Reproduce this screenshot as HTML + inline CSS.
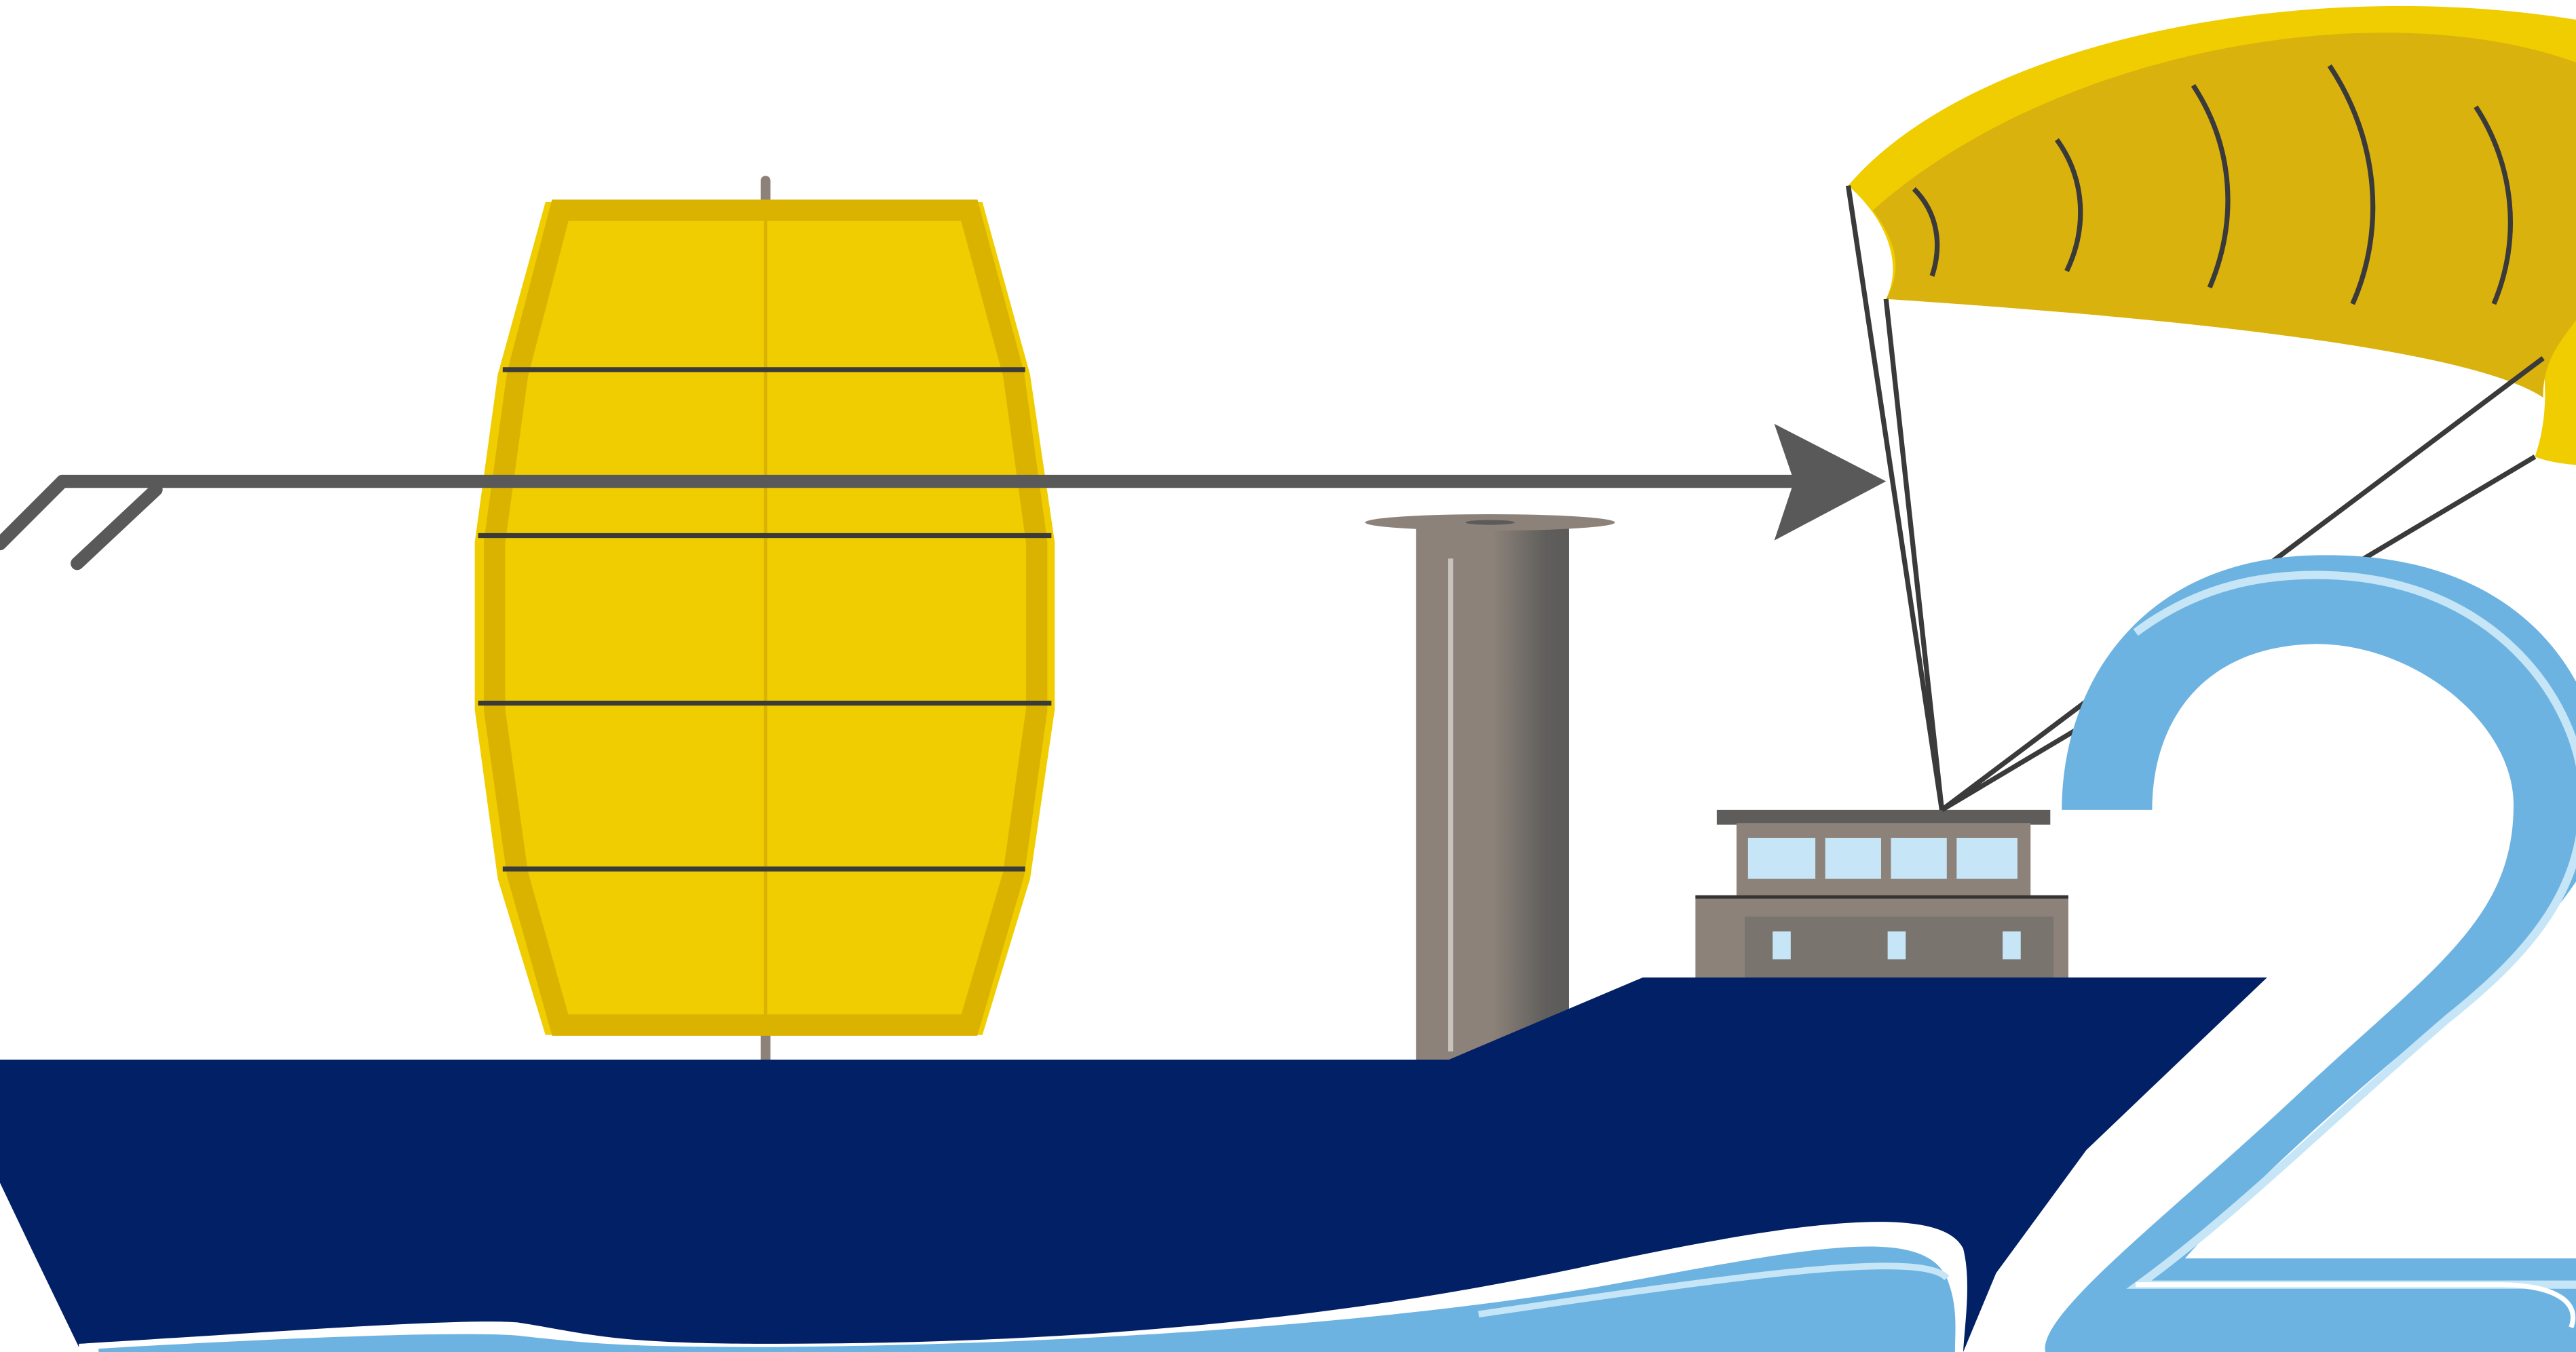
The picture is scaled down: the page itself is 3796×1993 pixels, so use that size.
<!DOCTYPE html>
<html><head><meta charset="utf-8"><style>
html,body{margin:0;padding:0;background:#fff;width:3796px;height:1993px;overflow:hidden}
svg{display:block}
</style></head><body>
<svg width="3796" height="1993" viewBox="0 0 1568 823" preserveAspectRatio="none" xmlns="http://www.w3.org/2000/svg">
<defs>
<linearGradient id="rot" x1="0" x2="1" y1="0" y2="0">
<stop offset="0" stop-color="#8c8279"/><stop offset="0.5" stop-color="#8c8279"/><stop offset="0.85" stop-color="#605e5c"/><stop offset="1" stop-color="#5d5b5a"/>
</linearGradient>
</defs>
<rect width="1568" height="823" fill="#fff"/>
<!-- mast -->
<line x1="466" y1="110" x2="466" y2="648" stroke="#8c8279" stroke-width="6" stroke-linecap="round"/>
<!-- sail -->
<polygon points="332,123 598,123 627,228 642,330 642,432 627,535 598,630 332,630 303,535 289,432 289,330 303,228" fill="#f0cd00"/>
<polygon points="341,128 590,128 617,228 631,330 631,432 617,532 590,624 341,624 315,532 301,432 301,330 315,228" fill="none" stroke="#dab300" stroke-width="13"/>
<line x1="466" y1="133" x2="466" y2="618" stroke="#dab300" stroke-width="2"/>
<g stroke="#3a3a3a" stroke-width="3">
<line x1="306" y1="225" x2="624" y2="225"/><line x1="291" y1="326" x2="640" y2="326"/>
<line x1="291" y1="428" x2="640" y2="428"/><line x1="306" y1="529" x2="624" y2="529"/>
</g>
<!-- arrow -->
<g stroke="#595959" stroke-width="8" stroke-linecap="round" fill="none">
<line x1="38" y1="293" x2="1092" y2="293"/>
<line x1="38" y1="293" x2="0" y2="331"/>
<line x1="95" y1="298" x2="47" y2="343"/>
<line x1="40" y1="298" x2="0" y2="338" stroke-width="0"/>
</g>
<polygon points="1080,258 1148,293 1080,329 1092,293" fill="#595959"/>
<!-- rotor -->
<rect x="862" y="320" width="93" height="330" fill="url(#rot)"/>
<line x1="883" y1="340" x2="883" y2="640" stroke="#c9c3be" stroke-width="3"/>
<ellipse cx="907" cy="318" rx="76" ry="5" fill="#8c8279"/>
<ellipse cx="907" cy="318" rx="15" ry="1.5" fill="#5d5b5a"/>
<!-- superstructure -->
<rect x="1045" y="493" width="203" height="9" fill="#5f5d5c"/>
<rect x="1057" y="501" width="179" height="45" fill="#8c8279"/>
<rect x="1064" y="510" width="164" height="25" fill="#c6e6f7"/>
<g fill="#8c8279"><rect x="1105" y="510" width="6" height="25"/><rect x="1145" y="510" width="6" height="25"/><rect x="1185" y="510" width="6" height="25"/></g>
<rect x="1032" y="545" width="227" height="52" fill="#8c8279"/>
<rect x="1062" y="558" width="188" height="39" fill="#7a746e"/>
<line x1="1032" y1="546" x2="1259" y2="546" stroke="#333" stroke-width="2"/>
<g fill="#c6e6f7"><rect x="1079" y="567" width="11" height="17"/><rect x="1149" y="567" width="11" height="17"/><rect x="1219" y="567" width="11" height="17"/></g>
<!-- hull -->
<polygon points="0,645 882,645 1000,595 1380,595 1270,700 1215,775 1195,823 48,820 20,762 0,720" fill="#022066"/>
<!-- waves -->
<path d="M48,818 C150,812 280,802 315,805 C360,812 370,818 470,818 C700,818 850,795 960,772 C1080,746 1180,730 1195,760 C1200,780 1196,805 1195,823 L48,823 Z" fill="#fff"/>
<path d="M60,821 C160,815 280,810 315,813 C360,818 380,820 470,820 C700,818 880,800 980,782 C1100,760 1170,745 1185,778 C1192,795 1190,810 1190,823 L60,823 Z" fill="#6db3e2"/>
<path d="M900,800 C1050,778 1170,760 1185,778" fill="none" stroke="#c6e6f7" stroke-width="4"/>
<!-- kite -->
<path d="M1125,113 C1200,25 1400,-15 1568,12 L1568,283 C1556,282 1548,280 1543,278 C1550,258 1550,238 1548,220 L1500,205 C1350,190 1250,186 1148,182 C1158,162 1150,135 1125,113 Z" fill="#f0cd00"/>
<path d="M1140,128 C1250,30 1450,-5 1568,38 L1568,195 C1555,212 1548,222 1548,242 C1500,210 1300,192 1148,182 C1158,165 1155,148 1140,128 Z" fill="#dab20d"/>
<g fill="none" stroke="#3a3a3a" stroke-width="3">
<path d="M1165,115 C1180,130 1182,150 1176,168"/>
<path d="M1252,85 C1270,110 1270,140 1258,165"/>
<path d="M1335,52 C1360,90 1362,135 1345,175"/>
<path d="M1418,40 C1448,85 1452,140 1432,185"/>
<path d="M1507,65 C1530,100 1535,145 1518,185"/>
</g>
<g stroke="#3a3a3a" stroke-width="3">
<line x1="1125" y1="113" x2="1182" y2="493"/>
<line x1="1148" y1="182" x2="1182" y2="493"/>
<line x1="1548" y1="218" x2="1182" y2="493"/>
<line x1="1543" y1="278" x2="1182" y2="493"/>
</g>
<!-- big 2 -->
<path d="M1255,493 L1310,493 C1310,440 1340,393 1410,392 C1470,392 1530,440 1530,490 C1530,560 1480,590 1400,665 C1320,740 1240,800 1245,823 L1568,823 L1568,766 L1330,766 C1380,710 1450,650 1500,610 C1560,555 1588,520 1585,480 C1585,420 1540,335 1410,338 C1300,340 1255,420 1255,493 Z" fill="#6db3e2"/>
<path d="M1300,385 C1340,355 1380,350 1410,350 C1520,350 1570,430 1572,480 C1575,540 1540,580 1490,620 C1420,680 1360,740 1302,782 L1568,782" fill="none" stroke="#c6e6f7" stroke-width="5"/>
<path d="M1300,782 L1520,782 C1560,782 1570,795 1565,808" fill="none" stroke="#fff" stroke-width="3"/>
</svg>
</body></html>
